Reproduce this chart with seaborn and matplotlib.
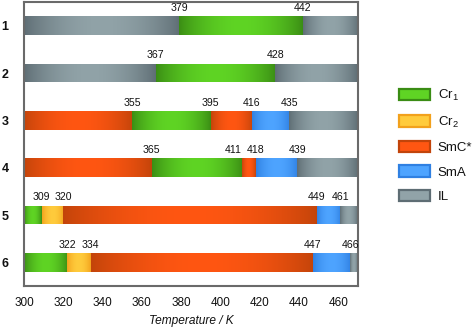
import numpy as np
import pandas as pd
import matplotlib
matplotlib.use("Agg")
import matplotlib.pyplot as plt
import seaborn as sns
from matplotlib.patches import Patch
from matplotlib.colors import to_rgb

# ---------------- data ----------------
rows = ["1", "2", "3", "4", "5", "6"]
phases = ["Cr$_1$", "Cr$_2$", "SmC*", "SmA", "IL"]
row1_phases = ["IL", "Cr$_1$", "IL"]
row1_bounds = [300, 379, 442, 470]
row2_phases = ["IL", "Cr$_1$", "IL"]
row2_bounds = [300, 367, 428, 470]
row3_phases = ["SmC*", "Cr$_1$", "SmC*", "SmA", "IL"]
row3_bounds = [300, 355, 395, 416, 435, 470]
row4_phases = ["SmC*", "Cr$_1$", "SmC*", "SmA", "IL"]
row4_bounds = [300, 365, 411, 418, 439, 470]
row5_phases = ["Cr$_1$", "Cr$_2$", "SmC*", "SmA", "IL"]
row5_bounds = [300, 309, 320, 449, 461, 470]
row6_phases = ["Cr$_1$", "Cr$_2$", "SmC*", "SmA", "IL"]
row6_bounds = [300, 322, 334, 447, 466, 470]
row_phase_lists = [row1_phases, row2_phases, row3_phases, row4_phases, row5_phases, row6_phases]
row_bound_lists = [row1_bounds, row2_bounds, row3_bounds, row4_bounds, row5_bounds, row6_bounds]
x_ticks = [300, 320, 340, 360, 380, 400, 420, 440, 460]

# gradient colours: (edge, centre)
phase_colors = {
    "Cr$_1$": ("#3a8c14", "#5fd424"),
    "Cr$_2$": ("#f2a11c", "#ffcb3c"),
    "SmC*": ("#c2440a", "#ff5612"),
    "SmA": ("#2f80e2", "#4ea4ff"),
    "IL": ("#5e6d74", "#91a3a8"),
}

sns.set_style("white")
plt.rcParams["font.family"] = ["Liberation Sans", "DejaVu Sans"]
plt.rcParams["mathtext.fontset"] = "custom"
plt.rcParams["mathtext.rm"] = "Liberation Sans"
plt.rcParams["mathtext.it"] = "Liberation Sans:italic"
plt.rcParams["mathtext.default"] = "regular"

fig = plt.figure(figsize=(4.74, 3.32), dpi=100)
ax = fig.add_axes([24 / 474, 1 - 286 / 332, (358 - 24) / 474, 284 / 332])

bar_h = 0.4
segments = []
for i, (ph, bd) in enumerate(zip(row_phase_lists, row_bound_lists)):
    for j, p in enumerate(ph):
        segments.append(dict(row=i, phase=p, start=bd[j], end=bd[j + 1]))
df = pd.DataFrame(segments)

ax.set_xlim(300, 470)
ax.set_ylim(5.5, -0.5)


def grad_img(p, n=256):
    c0 = np.array(to_rgb(phase_colors[p][0]))
    c1 = np.array(to_rgb(phase_colors[p][1]))
    t = np.linspace(0, 1, n)
    w = np.sin(np.pi * t) ** 0.8
    img = c0[None, :] * (1 - w[:, None]) + c1[None, :] * w[:, None]
    return img[None, :, :]


for _, s in df.iterrows():
    bars = ax.barh(s["row"], s["end"] - s["start"], left=s["start"], height=bar_h,
                   color=phase_colors[s["phase"]][1], edgecolor="none", linewidth=0)
    patch = bars.patches[0]
    im = ax.imshow(grad_img(s["phase"]), extent=[s["start"], s["end"], s["row"] + bar_h / 2, s["row"] - bar_h / 2],
                   aspect="auto", interpolation="bilinear", zorder=2)
    im.set_clip_path(patch)

ax.set_xlim(300, 470)
ax.set_ylim(5.5, -0.5)

# transition labels
for i, bd in enumerate(row_bound_lists):
    inner = bd[1:-1]
    for k, v in enumerate(inner):
        ha = "center"
        if k + 1 < len(inner) and inner[k + 1] - v < 10:
            ha = "right"
        ax.text(v, i - bar_h / 2 - 0.07, str(v), ha=ha, va="bottom", fontsize=7.6, color="#111111", zorder=5)

ax.set_xticks(x_ticks)
ax.set_xticklabels([str(t) for t in x_ticks], fontsize=8.5)
ax.set_yticks(range(len(rows)))
ax.set_yticklabels(rows, fontsize=9, fontweight="bold")
ax.tick_params(axis="x", direction="in", length=4, width=1, color="#666666", pad=8, labelcolor="#111111")
ax.tick_params(axis="y", length=0, pad=11, labelcolor="#111111")
for sp in ax.spines.values():
    sp.set_color("#6a6a6a")
    sp.set_linewidth(1.5)
    sp.set_visible(True)
ax.set_xlabel("Temperature / K", fontsize=8.6, style="italic", labelpad=4, color="#111111")

handles = [Patch(facecolor=phase_colors[p][1], edgecolor=phase_colors[p][0], linewidth=1.6) for p in phases]
fig.legend(handles, phases, loc="upper left", bbox_to_anchor=(394 / 474, 1 - 83 / 332),
           frameon=False, fontsize=9.5, handlelength=2.3, handleheight=0.95,
           labelspacing=0.85, handletextpad=0.6, borderaxespad=0, labelcolor="#111111")

fig.savefig("out.png", dpi=100)
